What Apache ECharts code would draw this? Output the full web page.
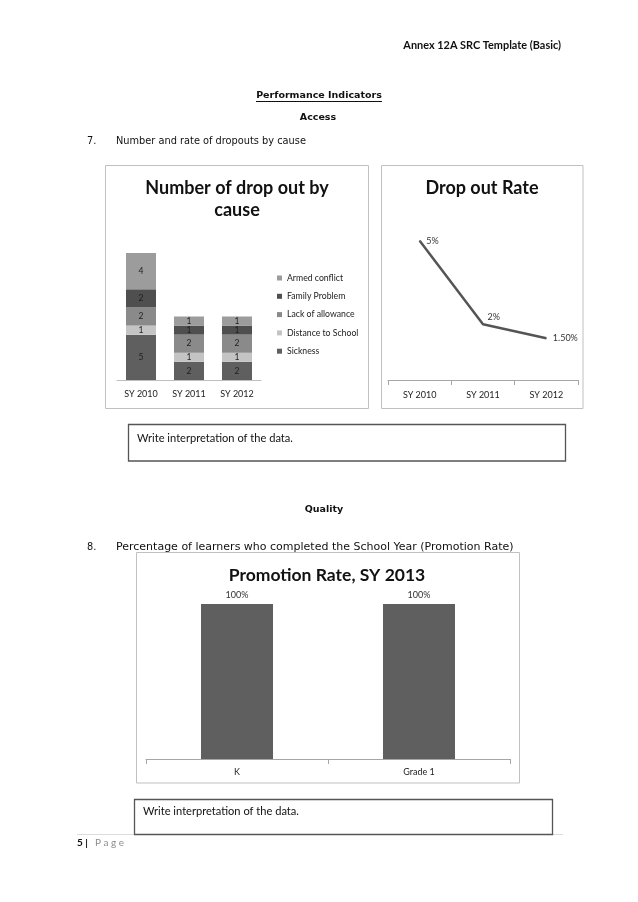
<!DOCTYPE html>
<html>
<head>
<meta charset="utf-8">
<script src="https://cdn.jsdelivr.net/npm/echarts@6/dist/echarts.min.js"></script>
<style>
html,body{margin:0;padding:0;background:#fff;}
#c{width:638px;height:902px;}
</style>
</head>
<body>
<div id="c"></div>
<script>
// ---- data ----
var dropYears = ['SY 2010', 'SY 2011', 'SY 2012'];
var causeNames = ['Sickness', 'Distance to School', 'Lack of allowance', 'Family Problem', 'Armed conflict'];
var sickness = [5, 2, 2];
var distance = [1, 1, 1];
var allowance = [2, 2, 2];
var family = [2, 1, 1];
var armed = [4, 1, 1];
var rateYears = ['SY 2010', 'SY 2011', 'SY 2012'];
var dropRate = [5, 2, 1.5];
var rateLabels = ['5%', '2%', '1.50%'];
var promoGrades = ['K', 'Grade 1'];
var promoRate = [100, 100];

var causeValues = [sickness, distance, allowance, family, armed];
var causeColors = ['#5f5f5f', '#c4c4c4', '#8a8a8a', '#4f4f4f', '#9c9c9c'];

var chartFont = 'Lato';
var docFont = 'DejaVu Sans';

var chart = echarts.init(document.getElementById('c'), null, {renderer: 'canvas'});

var series = causeNames.map(function (n, i) {
  return {
    name: n, type: 'bar', stack: 'cause', xAxisIndex: 0, yAxisIndex: 0,
    barWidth: 30, data: causeValues[i],
    itemStyle: {color: causeColors[i]},
    label: {show: true, position: 'inside', fontFamily: chartFont, fontSize: 8.5, color: '#1e1e1e'}
  };
});
series.push({
  name: 'Drop out Rate', type: 'line', xAxisIndex: 1, yAxisIndex: 1,
  data: dropRate.map(function (v, i) {
    var d = {value: v};
    if (i === 1) d.label = {offset: [-2, -7]};
    return d;
  }),
  symbol: 'circle', symbolSize: 1, showSymbol: true,
  lineStyle: {color: '#555', width: 2.5}, itemStyle: {color: '#555'},
  label: {show: true, position: 'right', distance: 6, fontFamily: chartFont, fontSize: 9, color: '#333',
    formatter: function (p) { return rateLabels[p.dataIndex]; }}
});
series.push({
  name: 'Promotion', type: 'bar', xAxisIndex: 2, yAxisIndex: 2, barWidth: 72,
  data: promoRate, itemStyle: {color: '#5f5f5f'},
  label: {show: true, position: 'top', distance: 4, fontFamily: chartFont, fontSize: 9, color: '#333',
    formatter: function (p) { return p.value + '%'; }}
});

function txt(x, y, s, opt) {
  opt = opt || {};
  return {type: 'text', x: x, y: y, silent: true, style: {
    text: s, fontFamily: opt.font || docFont, fontSize: opt.size || 9,
    fontWeight: opt.bold ? 'bold' : 'normal', fill: opt.color || '#111',
    align: opt.align || 'left', verticalAlign: 'middle'}};
}
function box(x, y, w, h, color, lw) {
  return {type: 'rect', silent: true, shape: {x: x, y: y, width: w, height: h},
    style: {fill: 'none', stroke: color, lineWidth: lw}};
}

var graphics = [
  txt(561, 45, 'Annex 12A SRC Template (Basic)', {font: chartFont, size: 10.9, bold: true, align: 'right'}),
  txt(319, 96, 'Performance Indicators', {bold: true, size: 9.5, align: 'center'}),
  {type: 'line', silent: true, shape: {x1: 256, y1: 101.5, x2: 382, y2: 101.5}, style: {stroke: '#111', lineWidth: 1}},
  txt(318, 118, 'Access', {bold: true, size: 9.5, align: 'center'}),
  txt(87, 141, '7.', {size: 9.8}),
  txt(116, 141, 'Number and rate of dropouts by cause', {size: 9.8}),
  box(105.5, 165.5, 263, 243, '#c0c0c0', 1),
  box(381.5, 165.5, 201.5, 243, '#c0c0c0', 1),
  box(128.5, 424.5, 437, 36.5, '#555', 1.3),
  txt(137, 438, 'Write interpretation of the data.', {font: chartFont, size: 11.1, color: '#111'}),
  txt(324, 510, 'Quality', {bold: true, size: 9.5, align: 'center'}),
  txt(87, 547, '8.', {size: 9.8}),
  txt(116, 547, 'Percentage of learners who completed the School Year (Promotion Rate)', {size: 11}),
  box(136.5, 552.5, 383, 230.5, '#c0c0c0', 1),
  {type: 'line', silent: true, shape: {x1: 77, y1: 834.5, x2: 563, y2: 834.5}, style: {stroke: '#dcdcdc', lineWidth: 1}},
  box(134.5, 799.5, 418, 35, '#555', 1.3),
  txt(143, 811.5, 'Write interpretation of the data.', {font: chartFont, size: 11.1, color: '#111'}),
  txt(77, 843, '5 |', {font: chartFont, size: 10, bold: true}),
  txt(95, 843, 'P a g e', {font: chartFont, size: 10, color: '#8c8c8c'})
];

function catAxis(grid, data, opt) {
  return {
    type: 'category', gridIndex: grid, data: data, boundaryGap: true,
    axisLine: {show: true, lineStyle: {color: opt.lineColor || '#a6a6a6', width: 1}},
    axisTick: {show: opt.ticks, length: 5, lineStyle: {color: '#a6a6a6'}},
    axisLabel: {fontFamily: chartFont, fontSize: opt.fs || 9, color: '#222', margin: opt.margin || 10}
  };
}
function valAxis(grid, max) {
  return {type: 'value', gridIndex: grid, min: 0, max: max, show: false, splitLine: {show: false}};
}

chart.setOption({
  animation: false,
  backgroundColor: '#fff',
  title: [
    {text: 'Number of drop out by\ncause', left: 237, top: 177, textAlign: 'center', padding: 0,
      textStyle: {fontFamily: chartFont, fontSize: 18, fontWeight: 'bold', color: '#111', lineHeight: 22}},
    {text: 'Drop out Rate', left: 482, top: 177, textAlign: 'center', padding: 0,
      textStyle: {fontFamily: chartFont, fontSize: 18, fontWeight: 'bold', color: '#111', lineHeight: 22}},
    {text: 'Promotion Rate, SY 2013', left: 327, top: 564, textAlign: 'center', padding: 0,
      textStyle: {fontFamily: chartFont, fontSize: 17.5, fontWeight: 'bold', color: '#111', lineHeight: 22}}
  ],
  legend: {
    orient: 'vertical', left: 277, top: 272, itemWidth: 5, itemHeight: 5, itemGap: 6.3,
    icon: 'rect', selectedMode: false, padding: 0,
    data: ['Armed conflict', 'Family Problem', 'Lack of allowance', 'Distance to School', 'Sickness'],
    textStyle: {fontFamily: chartFont, fontSize: 8.7, color: '#222', lineHeight: 12}
  },
  grid: [
    {left: 117, top: 253, width: 144, height: 127},
    {left: 388, top: 213, width: 190, height: 167},
    {left: 146, top: 604, width: 364, height: 155}
  ],
  xAxis: [
    catAxis(0, dropYears, {ticks: false, lineColor: '#bfbfbf', margin: 10}),
    catAxis(1, rateYears, {ticks: true, margin: 11}),
    catAxis(2, promoGrades, {ticks: true, margin: 9})
  ],
  yAxis: [valAxis(0, 14), valAxis(1, 6), valAxis(2, 100)],
  series: series,
  graphic: graphics
});
</script>
</body>
</html>
